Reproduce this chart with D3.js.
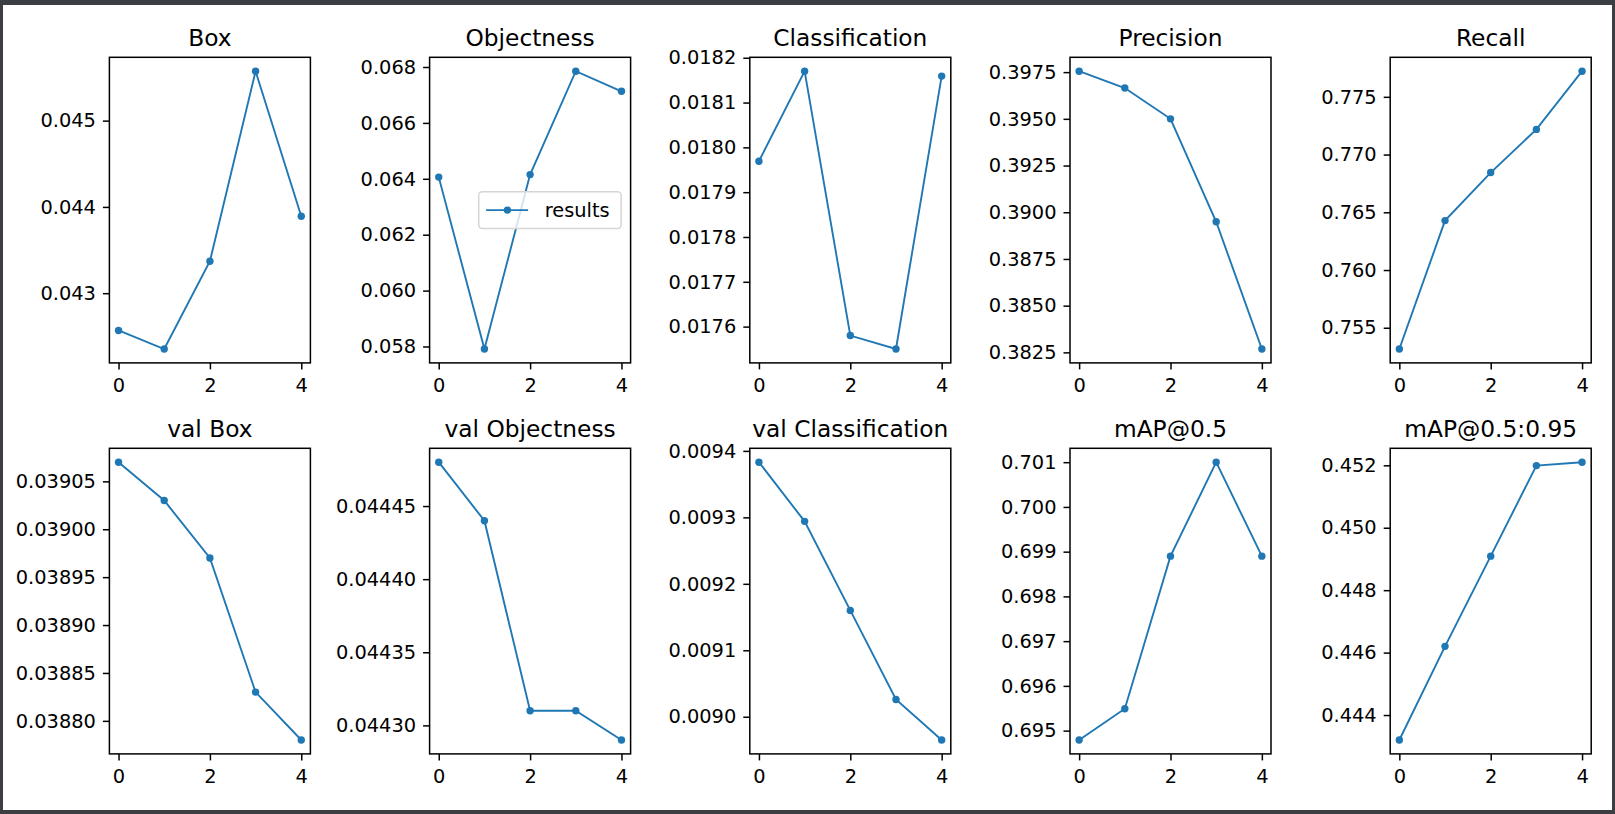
<!DOCTYPE html>
<html>
<head>
<meta charset="utf-8">
<script src="https://cdn.jsdelivr.net/npm/d3@7"></script>
<style>
  body { margin: 0; background: #3b3e42; }
  svg { display: block; }
  text { font-family: "DejaVu Sans", sans-serif; fill: #000; }
</style>
</head>
<body>
<div id="chart"></div>
<script>
// epochs on the x axis
var epochs = [0, 1, 2, 3, 4];
var xTicks = [0, 2, 4];

var titles = ["Box", "Objectness", "Classification", "Precision", "Recall",
  "val Box", "val Objectness", "val Classification", "mAP@0.5", "mAP@0.5:0.95"];

// series values
var boxLoss = [0.042568, 0.042353, 0.04337, 0.045573, 0.043892];
var objLoss = [0.06406, 0.05791, 0.06415, 0.06785, 0.06713];
var clsLoss = [0.017969, 0.018170, 0.017580, 0.017550, 0.018159];
var precision = [0.39755, 0.39665, 0.3950, 0.38949, 0.38268];
var recall = [0.75316, 0.76428, 0.76844, 0.77218, 0.77722];
var valBox = [0.03907, 0.03903, 0.03897, 0.03883, 0.03878];
var valObj = [0.04448, 0.04444, 0.04431, 0.04431, 0.04429];
var valCls = [0.009383, 0.009294, 0.00916, 0.009026, 0.008965];
var map50 = [0.69479, 0.69549, 0.6989, 0.7010, 0.6989];
var map5095 = [0.4432, 0.4462, 0.44909, 0.45199, 0.4521];

// y tick labels per panel
var boxTicks = ["0.043", "0.044", "0.045"];
var objTicks = ["0.058", "0.060", "0.062", "0.064", "0.066", "0.068"];
var clsTicks = ["0.0176", "0.0177", "0.0178", "0.0179", "0.0180", "0.0181", "0.0182"];
var precTicks = ["0.3825", "0.3850", "0.3875", "0.3900", "0.3925", "0.3950", "0.3975"];
var recTicks = ["0.755", "0.760", "0.765", "0.770", "0.775"];
var valBoxTicks = ["0.03880", "0.03885", "0.03890", "0.03895", "0.03900", "0.03905"];
var valObjTicks = ["0.04430", "0.04435", "0.04440", "0.04445"];
var valClsTicks = ["0.0090", "0.0091", "0.0092", "0.0093", "0.0094"];
var map50Ticks = ["0.695", "0.696", "0.697", "0.698", "0.699", "0.700", "0.701"];
var map5095Ticks = ["0.444", "0.446", "0.448", "0.450", "0.452"];

var legendLabel = "results";

var allSeries = [boxLoss, objLoss, clsLoss, precision, recall, valBox, valObj, valCls, map50, map5095];
var allTicks = [boxTicks, objTicks, clsTicks, precTicks, recTicks, valBoxTicks, valObjTicks, valClsTicks, map50Ticks, map5095Ticks];

var W = 1615, H = 814;
var blue = "#1f77b4";
var tickFont = 19.4, titleFont = 23.3;

var svg = d3.select("#chart").append("svg")
  .attr("width", W)
  .attr("height", H);

// dark frame with white figure inside
svg.append("rect").attr("width", W).attr("height", H).attr("fill", "#3b3e42");
svg.append("rect").attr("x", 3).attr("y", 5).attr("width", 1609).attr("height", 805).attr("fill", "#fff");

// panel grid
var colLeft = [109.4, 429.6, 749.8, 1070, 1390.2];
var rowTop = [57.3, 448.3];
var axW = 201, axH = 305.6;

titles.forEach(function(title, i) {
  var row = Math.floor(i / 5), col = i % 5;
  var values = allSeries[i];
  var ticks = allTicks[i];

  var g = svg.append("g")
    .attr("transform", "translate(" + colLeft[col] + "," + rowTop[row] + ")");

  // x scale with matplotlib style 5% margins
  var x = d3.scaleLinear().domain([-0.2, 4.2]).range([0, axW]);
  var ext = d3.extent(values);
  var pad = (ext[1] - ext[0]) * 0.05;
  var y = d3.scaleLinear().domain([ext[0] - pad, ext[1] + pad]).range([axH, 0]);

  // x axis
  var xa = g.append("g")
    .attr("transform", "translate(0," + axH + ")")
    .call(d3.axisBottom(x).tickValues(xTicks).tickSize(6.5).tickPadding(9).tickFormat(d3.format("d")));
  // y axis, ticks outside the padded range are dropped like matplotlib does
  var yd = y.domain();
  var ya = g.append("g")
    .call(d3.axisLeft(y)
      .tickValues(ticks.map(Number).filter(function(t) { return t >= yd[0] - 1e-12 && t <= yd[1] + 1e-12; }))
      .tickSize(6.5).tickPadding(7)
      .tickFormat(function(d) { return ticks.find(function(s) { return Math.abs(+s - d) < 1e-12; }); }));

  [xa, ya].forEach(function(a) {
    a.select(".domain").remove();
    a.selectAll("line").attr("stroke", "#000").attr("stroke-width", 1.5);
    a.selectAll("text").style("font-family", "DejaVu Sans").style("font-size", tickFont + "px").attr("fill", "#000");
  });

  // line and dots
  var line = d3.line()
    .x(function(d, j) { return x(epochs[j]); })
    .y(function(d) { return y(d); });
  g.append("path")
    .datum(values)
    .attr("d", line)
    .attr("fill", "none")
    .attr("stroke", blue)
    .attr("stroke-width", 1.9);
  g.selectAll("circle")
    .data(values)
    .enter().append("circle")
    .attr("cx", function(d, j) { return x(epochs[j]); })
    .attr("cy", function(d) { return y(d); })
    .attr("r", 3.7)
    .attr("fill", blue);

  // frame
  g.append("rect")
    .attr("width", axW).attr("height", axH)
    .attr("fill", "none").attr("stroke", "#000").attr("stroke-width", 1.5);

  // title
  g.append("text")
    .attr("x", axW / 2)
    .attr("y", -11.7)
    .attr("text-anchor", "middle")
    .style("font-size", titleFont + "px")
    .text(title);

  // legend only in the Objectness panel, center right
  if (i === 1) {
    var lw = 142.4, lh = 36.7;
    var lx = axW - 9.5 - lw, ly = axH / 2 - lh / 2;
    var lg = g.append("g").attr("transform", "translate(" + lx + "," + ly + ")");
    lg.append("rect")
      .attr("width", lw).attr("height", lh).attr("rx", 3.5)
      .attr("fill", "#fff").attr("fill-opacity", 0.8)
      .attr("stroke", "#d6d6d6").attr("stroke-width", 1.5);
    lg.append("line")
      .attr("x1", 7.4).attr("x2", 49.4).attr("y1", lh / 2).attr("y2", lh / 2)
      .attr("stroke", blue).attr("stroke-width", 1.9);
    lg.append("circle").attr("cx", 28.7).attr("cy", lh / 2).attr("r", 3.7).attr("fill", blue);
    lg.append("text")
      .attr("x", 66)
      .attr("y", lh / 2)
      .attr("dy", "0.35em")
      .style("font-size", tickFont + "px")
      .text(legendLabel);
  }
});
</script>
</body>
</html>
